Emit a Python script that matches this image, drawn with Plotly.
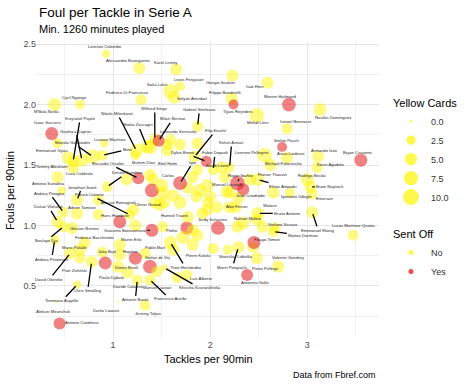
import numpy as np
import plotly.graph_objects as go

# ---------------- data ----------------
players = [
    "Lorenzo Colombo", "Alessandro Buongiorno", "Karol Linetty", "Lewis Ferguson", "Giorgio Scalvini",
    "Saša Lukić", "Sofyan Amrabat", "Filippo Bandinelli", "Isak Hien", "Morten Hjulmand",
    "Nicolás Domínguez", "Tijjani Reijnders", "Mehdi Léris", "Ismael Bennacer", "Cyril Ngonge",
    "M'Bala Nzola", "Federico Di Francesco", "Isaac Success", "Nikola Milenković", "Krzysztof Piątek",
    "Lautaro Martínez", "Wilfried Singo", "Milan Škriniar", "Gabriel Strefezza", "Mattia Zaccagni",
    "Leonardo Sernicola", "Filip Đuričić", "Emmanuel Gyasi", "Tammy Abraham", "Gianluca Caprari",
    "Manolo Gabbiadini", "Beto", "Riccardo Orsolini", "Luca Caldirola", "Antonio Sanabria",
    "Denzel Dumfries", "Jonathan Ikoné", "Patrick Cutrone", "Andrea Petagna", "Adrien Tameze",
    "Alessio Romagnoli", "Dušan Vlahović", "Hans Hateboer", "Dylan Bronn", "Fabio Depaoli",
    "Kelvin Amian", "Sandi Lovrić", "Brahim Díaz", "Emil Holm", "Igor",
    "Carlos", "Manuel Locatelli", "Olivier Giroud", "Hamed Traorè", "Jerdy Schouten",
    "Stefan Posch", "Lorenzo Pellegrini", "Aissa Laïdouni", "Michael Folorunsho", "Armando Izzo",
    "Kevin Agudelo", "Bryan Cristante", "Roger Ibañez", "Florian Thauvin", "Ethan Ampadu",
    "Rodrigo Becão", "Bram Nuytinck", "Iyenoma Udogie", "Emerson", "Juan Cuadrado",
    "Alex Ferrari", "Walace", "Bruno Amione", "Nahuel Molina", "Stefano Sturaro",
    "Emmanuel Ekong", "Lucas Martínez Quarta", "Matteo Darmian", "Fikayo Tomori", "Stanislav Lobotka",
    "Marin Pongračić", "Valentin Gendrey", "Pietro Pellegri", "Antonino Gallo", "Giacomo Bonaventura",
    "Pedro", "Theo Hernández", "Pablo Marí", "Stefan de Vrij", "Pierre Kalulu",
    "Luis Alberto", "Khvicha Kvaratskhelia", "Francesco Acerbi", "Manuel Lazzari", "Jeremy Toljan",
    "Antonín Barák", "Gleison Bremer", "Boulaye Dia", "Federico Baschirotto", "Martin Erlić",
    "Mario Pašalić", "Jaka Bijol", "Rogério", "Andrea Pinamonti", "Piotr Zieliński",
    "Dimitri Bisoli", "Paulo Dybala", "David Okereke", "Chris Smalling", "Davide Calabria",
    "Tommaso Augello", "Aleksei Miranchuk", "Darko Lazović", "Antonio Candreva",
]
tackles = [
    0.93, 1.27, 1.65, 1.69, 2.23, 1.59, 1.63, 2.22, 2.59, 2.81,
    3.13, 2.24, 2.48, 2.79, 0.66, 0.40, 1.29, 0.37, 1.24, 0.59,
    0.91, 1.43, 1.47, 1.87, 1.35, 1.69, 1.84, 0.54, 0.59, 0.68,
    0.79, 0.89, 1.26, 0.43, 0.47, 0.94, 0.63, 1.17, 0.49, 0.63,
    1.21, 0.43, 0.85, 1.96, 2.03, 2.20, 2.15, 1.23, 1.56, 1.69,
    1.50, 1.97, 1.43, 1.77, 2.07, 2.74, 2.56, 2.79, 2.62, 3.11,
    3.10, 3.55, 2.28, 2.41, 2.49, 3.00, 3.03, 2.82, 3.05, 2.34,
    2.26, 2.65, 2.49, 2.34, 2.67, 3.05, 3.47, 2.65, 2.45, 2.18,
    2.29, 2.70, 2.48, 2.38, 1.40, 1.51, 1.59, 1.33, 1.38, 2.03,
    1.76, 1.53, 1.38, 1.45, 1.33, 1.25, 0.58, 0.49, 0.71, 1.07,
    0.66, 0.89, 1.23, 0.40, 0.66, 1.05, 0.92, 0.56, 0.78, 1.15,
    0.63, 0.41, 1.05, 0.45,
]
fouls = [
    2.42, 2.30, 2.29, 2.15, 2.24, 2.11, 2.06, 2.05, 2.18, 2.00,
    1.96, 2.00, 1.91, 1.80, 2.00, 2.00, 2.04, 1.76, 1.62, 1.53,
    1.68, 1.71, 1.70, 1.82, 1.65, 1.67, 1.57, 1.56, 1.48, 1.54,
    1.57, 1.58, 1.39, 1.40, 1.29, 1.32, 1.21, 1.09, 1.11, 1.10,
    1.13, 1.03, 1.09, 1.53, 1.46, 1.48, 1.40, 1.58, 1.62, 1.35,
    1.33, 1.33, 1.19, 1.07, 1.15, 1.65, 1.58, 1.56, 1.50, 1.57,
    1.48, 1.54, 1.35, 1.38, 1.38, 1.38, 1.32, 1.27, 1.26, 1.30,
    1.15, 1.27, 1.10, 1.02, 0.98, 1.11, 0.92, 0.95, 0.86, 0.80,
    0.82, 0.66, 0.73, 0.59, 0.96, 0.99, 0.86, 0.77, 0.66, 0.81,
    0.59, 0.65, 0.55, 0.62, 0.34, 0.55, 0.98, 0.99, 0.86, 0.84,
    0.80, 0.78, 0.73, 0.88, 0.73, 0.66, 0.69, 0.77, 0.70, 0.61,
    0.51, 0.37, 0.37, 0.19,
]
yellow_cards = [
    2, 5, 5, 3, 5, 8, 6, 5, 5, 7,
    6, 3, 8, 4, 3, 6, 4, 6, 7, 5,
    2, 5, 5, 4, 6, 5, 5, 6, 5, 6,
    8, 4, 5, 5, 2, 4, 5, 4, 4, 5,
    5, 5, 4, 4, 4, 3, 5, 3, 5, 7,
    6, 6, 5, 5, 5, 3, 8, 5, 5, 5,
    4, 6, 8, 5, 6, 6, 5, 3, 4, 5,
    5, 5, 6, 6, 4, 5, 4, 4, 6, 3,
    5, 5, 5, 5, 6, 4, 6, 4, 7, 4,
    4, 1, 4, 4, 4, 4, 5, 4, 5, 5,
    5, 4, 6, 3, 4, 5, 6, 5, 5, 5,
    2, 0, 0, 5,
]
sent_off = [
    0, 0, 0, 0, 0, 0, 0, 0, 0, 1,
    0, 1, 0, 0, 0, 0, 0, 1, 0, 0,
    0, 0, 1, 0, 0, 0, 0, 0, 0, 0,
    0, 0, 1, 0, 0, 0, 0, 0, 0, 0,
    0, 0, 0, 1, 0, 0, 0, 0, 0, 1,
    0, 0, 0, 0, 0, 1, 0, 0, 0, 0,
    0, 1, 1, 0, 0, 0, 0, 0, 0, 1,
    0, 0, 0, 0, 0, 0, 0, 0, 1, 0,
    0, 0, 0, 1, 1, 0, 0, 0, 1, 0,
    0, 0, 0, 0, 0, 0, 0, 0, 0, 0,
    0, 0, 1, 0, 0, 0, 1, 0, 0, 0,
    0, 0, 0, 1,
]

# players without a text label
other_tackles = [1.38, 1.41, 1.51, 1.62, 1.77, 1.82, 1.87, 1.89, 2.00, 1.86,
                 1.98, 2.12, 2.17, 2.20, 2.29, 1.48, 1.53, 1.69, 1.92, 1.97,
                 1.40, 1.38, 1.56, 1.87, 2.20, 2.48, 2.54, 2.28, 1.14, 0.85,
                 1.07, 1.23, 1.76, 1.82, 1.87, 1.72, 1.82, 2.08, 1.62, 1.66,
                 2.44, 1.59, 0.43, 1.07]
other_fouls = [1.65, 1.38, 1.27, 1.25, 1.31, 1.40, 1.46, 1.29, 1.24, 1.24,
               1.19, 1.48, 1.28, 1.15, 1.23, 1.17, 1.19, 1.19, 1.10, 1.13,
               1.29, 1.42, 1.67, 1.68, 1.27, 1.05, 0.99, 0.99, 1.38, 1.21,
               1.03, 1.00, 0.98, 0.96, 0.92, 0.90, 0.84, 0.98, 0.80, 0.57,
               0.82, 1.71, 1.68, 0.76]
other_yellow = [8, 5, 6, 5, 5, 5, 4, 6, 5, 5,
                4, 5, 5, 5, 5, 5, 5, 6, 5, 5,
                7, 5, 4, 5, 5, 5, 5, 5, 5, 4,
                6, 5, 6, 5, 5, 6, 5, 7, 5, 4,
                4, 4, 3, 5]
other_sent_off = [0, 0, 0, 0, 0, 0, 0, 0, 0, 0,
                  0, 0, 0, 0, 0, 0, 0, 0, 0, 0,
                  1, 0, 0, 0, 0, 0, 0, 0, 0, 0,
                  1, 0, 1, 0, 0, 0, 0, 1, 0, 0,
                  0, 0, 0, 0]

legend_yellow = [0.0, 2.5, 5.0, 7.5, 10.0]
legend_sent = ["No", "Yes"]

# label placement (pixel offsets from the point, repel-style) and whether a segment is drawn
label_dx = [
    -1, -11, -10, 9, -12, -13, 18, -7, -13, -8,
    13, 4, 1, 9, -5, -8, -14, -4, -19, 7,
    6, 0, 14, 2, -9, -2, 21, -16, -21, -6,
    -20, 25, -30, 22, -13, 20, 5, -40, -14, 5,
    -15, -9, 17, -23, 2, 2, -7, 8, 1, 13,
    6, 20, -7, -13, -4, 5, -13, 4, 13, 6,
    13, -3, 3, 22, 25, 5, 20, 7, 12, 7,
    2, -3, 30, 4, 8, 6, 0, 30, 13, 8,
    -6, 10, 8, 8, -27, 9, 15, 10, 8, -15,
    15, 35, 20, 0, 3, -2, 13, -17, 10, 12,
    -5, 5, -5, -3, -5, 9, 7, -21, -4, 0,
    -15, -2, -11, 22,
]
label_dy = [
    -7, -8, -7, -7, 7, -7, 1, -6, 4, -8,
    8, 7, 7, -7, -7, 7, -7, -11, -37, -43,
    -4, -31, -22, -17, -22, -13, -26, -7, -1, -29,
    -14, -6, -15, -4, -7, -14, -13, -20, -19, -6,
    -7, -15, 1, -9, -17, -25, -12, 7, 13, -21,
    -10, -1, 2, -2, 12, -6, -3, -4, -2, -6,
    -3, -8, -8, -5, 7, -4, 0, 4, 4, 6,
    -1, 13, 0, -5, -3, 18, -10, 4, -3, 7,
    20, -9, 10, 7, 0, 4, 25, -6, -9, 7,
    3, 20, 19, 16, 8, 20, 1, 14, -5, -5,
    -2, -1, -7, 19, 12, 1, 14, 26, 29, 14,
    16, 10, 9, -1,
]
label_segment = [
    0, 0, 0, 0, 0, 0, 0, 0, 0, 0,
    0, 0, 0, 0, 0, 0, 0, 0, 1, 1,
    0, 1, 1, 1, 1, 0, 1, 0, 0, 1,
    1, 1, 1, 0, 0, 1, 1, 1, 1, 0,
    0, 1, 0, 1, 1, 1, 0, 0, 0, 1,
    0, 0, 0, 0, 0, 0, 0, 0, 0, 0,
    0, 0, 1, 0, 1, 0, 1, 0, 0, 0,
    0, 0, 1, 0, 0, 1, 0, 1, 0, 0,
    1, 0, 0, 0, 1, 0, 1, 0, 0, 0,
    0, 1, 1, 0, 0, 1, 0, 1, 0, 0,
    0, 0, 0, 1, 0, 0, 0, 1, 1, 0,
    1, 0, 0, 0,
]

YELLOW = "rgba(255,245,0,0.70)"
RED = "rgba(228,26,28,0.78)"
FONT = "Liberation Sans, Arial, sans-serif"


def card_size(v):
    return 2.5 + 13.5 * np.sqrt(np.asarray(v, dtype=float) / 10.0)


all_x = other_tackles + tackles
all_y = other_fouls + fouls
all_yc = other_yellow + yellow_cards
all_red = other_sent_off + sent_off

fig = go.Figure()
fig.add_trace(go.Scatter(
    x=all_x, y=all_y, mode="markers", showlegend=False, hoverinfo="skip",
    marker=dict(size=card_size(all_yc), color=[RED if r else YELLOW for r in all_red],
                line=dict(width=0)),
))

# legend: Yellow Cards
for v in legend_yellow:
    fig.add_trace(go.Scatter(
        x=[None], y=[None], mode="markers", name=f"{v:.1f}", legend="legend",
        marker=dict(size=float(card_size(v)), color=YELLOW, line=dict(width=0)),
    ))
# legend: Sent Off
for lab in legend_sent:
    fig.add_trace(go.Scatter(
        x=[None], y=[None], mode="markers", name=lab, legend="legend2",
        marker=dict(size=5, color=RED if lab == "Yes" else YELLOW, line=dict(width=0)),
    ))

annotations = []
for name, x, y, dx, dy, seg in zip(players, tackles, fouls, label_dx, label_dy, label_segment):
    annotations.append(dict(
        x=x, y=y, xref="x", yref="y", text=name, showarrow=True,
        ax=dx, ay=dy, axref="pixel", ayref="pixel",
        arrowhead=0, arrowwidth=1.3, standoff=2,
        arrowcolor="black" if seg else "rgba(0,0,0,0)",
        font=dict(size=4.2, color="#1f1f1f", family=FONT),
    ))

annotations += [
    dict(text="Foul per Tackle in Serie A", x=0, y=1.101, xref="paper", yref="paper",
         xanchor="left", yanchor="middle", showarrow=False,
         font=dict(size=13.5, color="black", family=FONT)),
    dict(text="Min. 1260 minutes played", x=0, y=1.044, xref="paper", yref="paper",
         xanchor="left", yanchor="middle", showarrow=False,
         font=dict(size=11, color="black", family=FONT)),
    dict(text="Tackles per 90min", x=0.5, y=-0.071, xref="paper", yref="paper",
         xanchor="center", yanchor="middle", showarrow=False,
         font=dict(size=11, color="black", family=FONT)),
    dict(text="Fouls per 90min", x=-0.079, y=0.5, xref="paper", yref="paper",
         xanchor="center", yanchor="middle", showarrow=False, textangle=-90,
         font=dict(size=11, color="black", family=FONT)),
    dict(text="Data from Fbref.com", x=0.997, y=-0.125, xref="paper", yref="paper",
         xanchor="right", yanchor="middle", showarrow=False,
         font=dict(size=9, color="black", family=FONT)),
]

fig.update_layout(
    width=474, height=386,
    margin=dict(l=37, r=95, t=42, b=48),
    paper_bgcolor="white", plot_bgcolor="white",
    font=dict(family=FONT, color="#4d4d4d"),
    annotations=annotations,
    xaxis=dict(range=[0.218, 3.737], tickvals=[1, 2, 3], showgrid=True,
               gridcolor="#e6e6e6", gridwidth=1, zeroline=False, showline=False,
               ticks="", tickfont=dict(size=9, color="#4d4d4d"),
               minor=dict(tickvals=[0.5, 1.5, 2.5, 3.5], showgrid=True,
                          gridcolor="#f0f0f0", gridwidth=0.7)),
    yaxis=dict(range=[0.07, 2.517], tickvals=[0.5, 1.0, 1.5, 2.0, 2.5],
               ticktext=["0.5", "1.0", "1.5", "2.0", "2.5"], showgrid=True,
               gridcolor="#e6e6e6", gridwidth=1, zeroline=False, showline=False,
               ticks="", tickfont=dict(size=9, color="#4d4d4d"),
               minor=dict(tickvals=[0.25, 0.75, 1.25, 1.75, 2.25], showgrid=True,
                          gridcolor="#f0f0f0", gridwidth=0.7)),
    legend=dict(title=dict(text="Yellow Cards", font=dict(size=11, color="black")),
                x=1.035, xanchor="left", y=0.83, yanchor="top",
                font=dict(size=9, color="#333333"), itemsizing="trace",
                bgcolor="rgba(0,0,0,0)", tracegroupgap=0),
    legend2=dict(title=dict(text="Sent Off", font=dict(size=11, color="black")),
                 x=1.035, xanchor="left", y=0.386, yanchor="top",
                 font=dict(size=9, color="#333333"), itemsizing="trace",
                 bgcolor="rgba(0,0,0,0)"),
)

fig.write_html("out.html", config={"displayModeBar": False},
               post_script="document.body.style.margin='0px';")
